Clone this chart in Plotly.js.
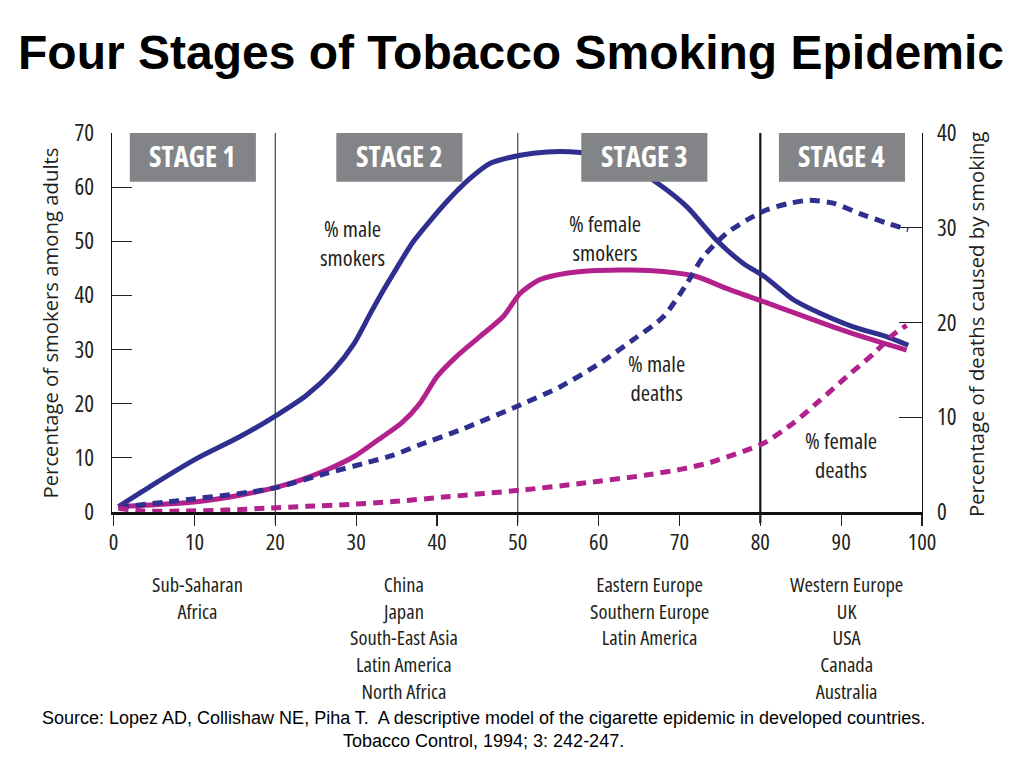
<!DOCTYPE html>
<html>
<head>
<meta charset="utf-8">
<script src="https://cdn.plot.ly/plotly-3.0.1.min.js"></script>
<style>
  html, body { margin: 0; padding: 0; background: #ffffff; }
  #chart { width: 1024px; height: 768px; }
  /* condensed letterforms for the chart labels */
  text { font-stretch: 75%; }
  /* title, source note and the two axis titles keep normal width */
  .gtitle { font-stretch: 100% !important; }
  g.annotation[data-index="0"] text,
  g.annotation[data-index="1"] text,
  g.annotation[data-index="2"] text { font-stretch: 100%; }
</style>
</head>
<body>
<div id="chart"></div>
<script>
// Stage of the epidemic (x axis, 0-100)
const maleSmokersX   = [0.6, 4.5, 10.3, 15.6, 20.2, 23.9, 27.2, 29.7, 31.7, 33.0, 35.0, 37.1, 41.2, 44.1, 46.6, 50.3, 53.6, 57.7, 61.0, 64.0, 67.6, 70.9, 74.6, 77.9, 80.5, 84.1, 87.4, 91.5, 95.6, 98.3];
const maleSmokersY   = [1.0, 4.7, 9.9, 13.9, 17.9, 21.6, 26.2, 31.0, 36.5, 40.0, 45.0, 50.0, 57.3, 61.6, 64.4, 65.9, 66.5, 66.4, 65.6, 63.8, 60.4, 56.4, 50.2, 45.9, 43.5, 39.2, 36.7, 34.2, 32.4, 30.8];

const femaleSmokersX = [0.6, 4.5, 10.3, 15.6, 20.2, 23.1, 26.4, 29.7, 32.5, 35.6, 37.9, 40.0, 42.4, 45.3, 48.2, 50.3, 52.7, 56.0, 59.8, 63.9, 68.0, 72.1, 75.8, 80.5, 84.9, 89.0, 93.2, 98.1];
const femaleSmokersY = [1.0, 1.3, 1.9, 3.1, 4.6, 5.9, 7.8, 10.2, 13.1, 16.4, 20.1, 25.0, 28.7, 32.4, 36.1, 40.4, 42.9, 44.1, 44.6, 44.7, 44.4, 43.5, 41.3, 38.8, 36.4, 34.2, 32.1, 29.9];

// Deaths caused by smoking (right axis, 0-40)
const maleDeathsX    = [0.6, 8.0, 16.9, 20.2, 26.4, 31.3, 34.6, 37.9, 43.3, 50.3, 55.2, 59.8, 64.3, 68.0, 70.9, 72.9, 75.8, 78.3, 80.8, 83.7, 86.1, 89.0, 92.3, 95.6, 98.3];
const maleDeathsY    = [0.5, 1.2, 2.1, 2.6, 4.1, 5.2, 6.0, 7.1, 8.8, 11.3, 13.2, 15.5, 18.2, 20.6, 24.1, 26.9, 29.4, 30.8, 31.9, 32.6, 32.9, 32.6, 31.5, 30.5, 29.8];

const femaleDeathsX  = [0.6, 3.7, 8.6, 14.0, 18.9, 23.9, 29.2, 34.6, 41.2, 50.3, 57.7, 65.9, 70.1, 73.7, 77.9, 80.5, 84.1, 87.4, 90.7, 94.0, 96.4, 98.1];
const femaleDeathsY  = [0.4, 0.1, 0.1, 0.2, 0.4, 0.6, 0.8, 1.1, 1.6, 2.3, 3.0, 3.9, 4.5, 5.2, 6.4, 7.3, 9.4, 11.8, 14.3, 16.7, 18.7, 19.7];

// Stages and the countries typical of each
const stageNames   = ["STAGE 1", "STAGE 2", "STAGE 3", "STAGE 4"];
const stageBounds  = [20, 50, 80];
const stageRegions = [
  ["Sub-Saharan", "Africa"],
  ["China", "Japan", "South-East Asia", "Latin America", "North Africa"],
  ["Eastern Europe", "Southern Europe", "Latin America"],
  ["Western Europe", "UK", "USA", "Canada", "Australia"]
];

const curveLabels = ["% male<br>smokers", "% female<br>smokers", "% male<br>deaths", "% female<br>deaths"];

const xTicks      = [0, 10, 20, 30, 40, 50, 60, 70, 80, 90, 100];
const leftTicks   = [0, 10, 20, 30, 40, 50, 60, 70];
const rightTicks  = [0, 10, 20, 30, 40];

const titleText  = "Four Stages of Tobacco Smoking Epidemic";
const leftTitle  = "Percentage of smokers among adults";
const rightTitle = "Percentage of deaths caused by smoking";
const sourceText = "Source: Lopez AD, Collishaw NE, Piha T.  A descriptive model of the cigarette epidemic in developed countries.<br>Tobacco Control, 1994; 3: 242-247.";

// ---- styling ----
const NAVY = "#2e2f8e";
const MAGENTA = "#b3218d";
const TEXT = "#231f20";
const ARIAL = "'Liberation Sans', Arial, sans-serif";
const SANS = "'Open Sans', sans-serif";

// plot area in page pixels
const M = { l: 112, r: 102, t: 133, b: 256 };
const W = 1024, H = 768;
const plotW = W - M.l - M.r, plotH = H - M.t - M.b;
const px2paperX = px => (px - M.l) / plotW;
const px2paperY = py => (H - M.b - py) / plotH;

const line = (color, dash) => ({ color: color, width: 5, dash: dash, shape: "spline", smoothing: 0.7 });

const traces = [
  { x: maleSmokersX, y: maleSmokersY, mode: "lines", line: line(NAVY, "solid"), yaxis: "y", hoverinfo: "skip" },
  { x: femaleSmokersX, y: femaleSmokersY, mode: "lines", line: line(MAGENTA, "solid"), yaxis: "y", hoverinfo: "skip" },
  { x: maleDeathsX, y: maleDeathsY, mode: "lines", line: line(NAVY, "10px,7px"), yaxis: "y2", hoverinfo: "skip" },
  { x: femaleDeathsX, y: femaleDeathsY, mode: "lines", line: line(MAGENTA, "10px,7px"), yaxis: "y2", hoverinfo: "skip" }
];

// stage centres and box half-width along the x axis
const stageCenters = [9.8, 35.35, 65.65, 90.1];
const boxHalf = 7.8;

const shapes = [];
stageBounds.forEach((b, i) => {
  shapes.push({
    type: "line", xref: "x", yref: "paper", x0: b, x1: b, y0: -0.03, y1: 1,
    line: { color: i === 2 ? "#111111" : "#333333", width: i === 2 ? 2.2 : 1.1 }, layer: "below"
  });
});
stageCenters.forEach(c => {
  shapes.push({
    type: "rect", xref: "x", yref: "y", x0: c - boxHalf, x1: c + boxHalf, y0: 61.0, y1: 70.35,
    fillcolor: "#838487", line: { width: 0 }, layer: "above"
  });
});

const annotations = [];
// 0: source note
annotations.push({
  xref: "paper", yref: "paper", x: px2paperX(483), y: px2paperY(729),
  xanchor: "center", yanchor: "middle",
  text: sourceText, showarrow: false, align: "center",
  font: { family: ARIAL, size: 18, color: "#000000" }
});
// 1, 2: axis titles
annotations.push({
  xref: "paper", yref: "paper", x: px2paperX(50), y: px2paperY(323), textangle: -90,
  xanchor: "center", yanchor: "middle",
  text: leftTitle, showarrow: false,
  font: { family: SANS, size: 20.3, color: TEXT }
});
annotations.push({
  xref: "paper", yref: "paper", x: px2paperX(976), y: px2paperY(324), textangle: -90,
  xanchor: "center", yanchor: "middle",
  text: rightTitle, showarrow: false,
  font: { family: SANS, size: 20.3, color: TEXT }
});
// stage headings
stageNames.forEach((s, i) => {
  annotations.push({
    xref: "x", yref: "y", x: stageCenters[i], y: 65.7, text: s, showarrow: false,
    xanchor: "center", yanchor: "middle",
    font: { family: SANS, size: 28.5, color: "#ffffff", weight: "bold" }
  });
});
// country lists under each stage
stageRegions.forEach((lines, i) => {
  annotations.push({
    xref: "x", yref: "paper", x: stageCenters[i] + 0.6, y: px2paperY(568),
    xanchor: "center", yanchor: "top",
    text: lines.join("<br>"), showarrow: false, align: "center",
    font: { family: SANS, size: 20.5, color: TEXT }
  });
});
// curve labels
const labelPos = [[29.5, 49.7], [60.8, 50.6], [67.2, 24.7], [90.0, 10.5]];
curveLabels.forEach((t, i) => {
  annotations.push({
    xref: "x", yref: "y", x: labelPos[i][0], y: labelPos[i][1],
    text: t, showarrow: false, align: "center",
    xanchor: "center", yanchor: "middle",
    font: { family: SANS, size: 22.5, color: TEXT }
  });
});

const layout = {
  width: W, height: H,
  margin: M,
  paper_bgcolor: "#ffffff", plot_bgcolor: "#ffffff",
  showlegend: false,
  title: {
    text: titleText, x: 0.499, xref: "container", y: 1 - 52 / H, yref: "container",
    xanchor: "center", yanchor: "middle",
    font: { family: ARIAL, size: 48, color: "#000000", weight: "bold" }
  },
  xaxis: {
    range: [-0.2, 100], tickvals: xTicks, ticktext: xTicks.map(String),
    showline: true, linecolor: "#111111", linewidth: 3,
    ticks: "outside", ticklen: 11, tickwidth: 1.1, tickcolor: "#222222",
    ticklabelstandoff: -3,
    showgrid: false, zeroline: false, fixedrange: true,
    tickfont: { family: SANS, size: 22.5, color: TEXT }
  },
  yaxis: {
    range: [0, 70], tickvals: leftTicks, ticktext: leftTicks.map(String),
    showline: true, linecolor: "#111111", linewidth: 1.3,
    ticks: "inside", ticklen: 20, tickwidth: 1.1, tickcolor: "#222222",
    ticklabelstandoff: 12,
    showgrid: false, zeroline: false, fixedrange: true,
    tickfont: { family: SANS, size: 23, color: TEXT }
  },
  yaxis2: {
    range: [0, 40], tickvals: rightTicks, ticktext: rightTicks.map(String),
    overlaying: "y", side: "right", anchor: "x",
    showline: true, linecolor: "#111111", linewidth: 1.3,
    ticks: "inside", ticklen: 23, tickwidth: 1.1, tickcolor: "#222222",
    ticklabelstandoff: 9,
    showgrid: false, zeroline: false, fixedrange: true,
    tickfont: { family: SANS, size: 23, color: TEXT }
  },
  shapes: shapes,
  annotations: annotations
};

Plotly.newPlot("chart", traces, layout, { staticPlot: true, displayModeBar: false });
</script>
</body>
</html>
